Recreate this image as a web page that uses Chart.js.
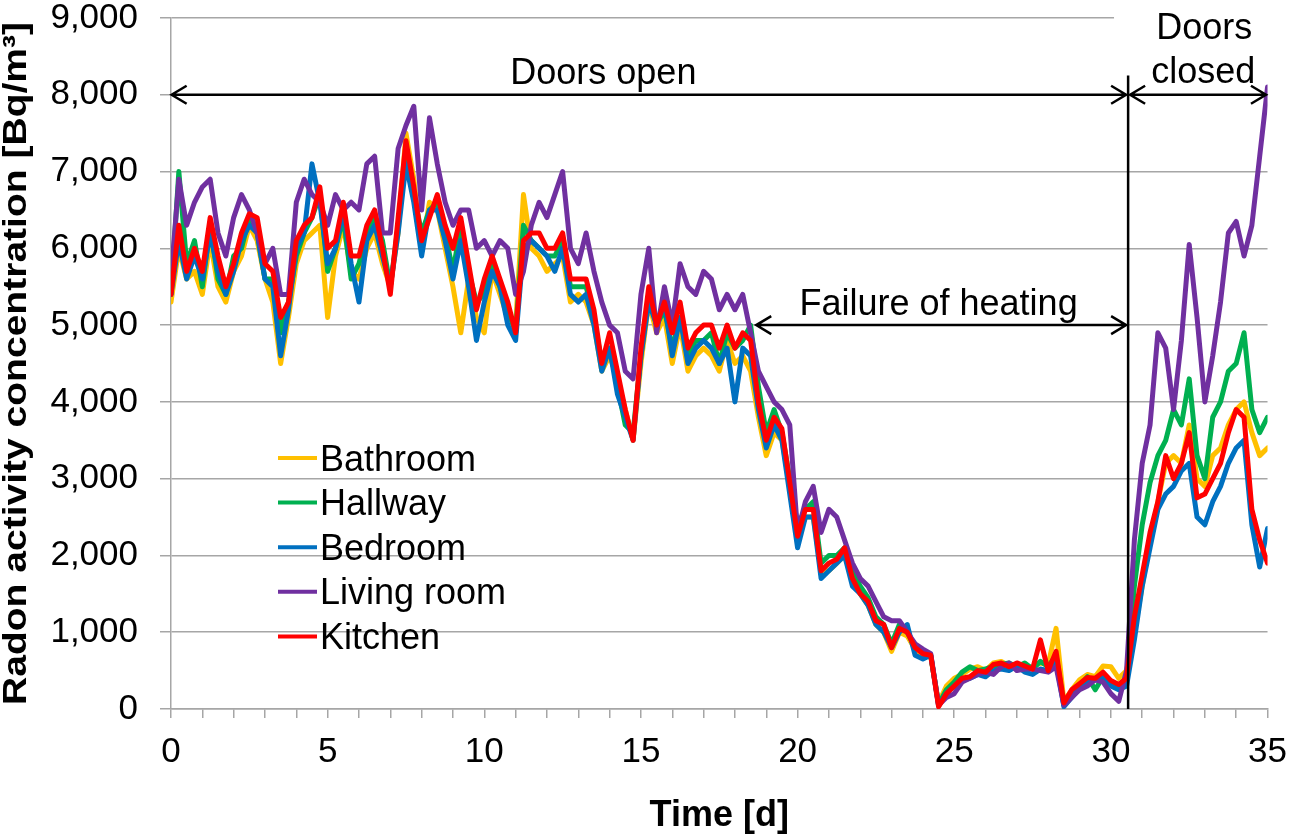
<!DOCTYPE html>
<html>
<head>
<meta charset="utf-8">
<title>Radon activity concentration</title>
<script src="https://cdn.jsdelivr.net/npm/chart.js@4.4.1/dist/chart.umd.min.js"></script>
<style>
  html, body { margin: 0; padding: 0; background: #fff; }
  #wrap { width: 1300px; height: 834px; }
</style>
</head>
<body>
<div id="wrap"><canvas id="chart" width="1300" height="834"></canvas></div>
<script>
// time in days, one reading every 6 h
const days = [
  0, 0.25, 0.5, 0.75, 1, 1.25, 1.5, 1.75, 2, 2.25, 2.5, 2.75, 3, 3.25, 3.5, 3.75, 4, 4.25, 4.5, 4.75,
  5, 5.25, 5.5, 5.75, 6, 6.25, 6.5, 6.75, 7, 7.25, 7.5, 7.75, 8, 8.25, 8.5, 8.75, 9, 9.25, 9.5, 9.75,
  10, 10.25, 10.5, 10.75, 11, 11.25, 11.5, 11.75, 12, 12.25, 12.5, 12.75, 13, 13.25, 13.5, 13.75, 14, 14.25, 14.5, 14.75,
  15, 15.25, 15.5, 15.75, 16, 16.25, 16.5, 16.75, 17, 17.25, 17.5, 17.75, 18, 18.25, 18.5, 18.75, 19, 19.25, 19.5, 19.75,
  20, 20.25, 20.5, 20.75, 21, 21.25, 21.5, 21.75, 22, 22.25, 22.5, 22.75, 23, 23.25, 23.5, 23.75, 24, 24.25, 24.5, 24.75,
  25, 25.25, 25.5, 25.75, 26, 26.25, 26.5, 26.75, 27, 27.25, 27.5, 27.75, 28, 28.25, 28.5, 28.75, 29, 29.25, 29.5, 29.75,
  30, 30.25, 30.5, 30.75, 31, 31.25, 31.5, 31.75, 32, 32.25, 32.5, 32.75, 33, 33.25, 33.5, 33.75, 34, 34.25, 34.5, 34.75,
  35
];

// Bq/m3
const bathroom = [
  5300, 6000, 5600, 5700, 5400, 6100, 5500, 5300, 5700, 5900, 6300, 6100, 5600, 5300, 4500, 5100, 5800, 6100, 6200, 6300,
  5100, 5900, 6300, 5700, 5600, 6000, 6200, 5800, 5500, 6200, 7500, 6900, 6000, 6600, 6500, 6000, 5500, 4900, 5600, 5100,
  4900, 5700, 5400, 5100, 5000, 6700, 6000, 5900, 5700, 5800, 5900, 5300, 5400, 5300, 5000, 4400, 4600, 4300, 3900, 3500,
  4500, 5300, 4900, 5100, 4500, 5000, 4400, 4600, 4700, 4600, 4400, 4800, 4500, 4600, 4400, 3800, 3300, 3600, 3500, 2900,
  2300, 2500, 2500, 1800, 1800, 1900, 2000, 1700, 1500, 1350, 1100, 1000, 750, 1000, 950, 780, 700, 680, 80, 300,
  400, 450, 520, 550, 500, 600, 620, 560, 580, 540, 550, 600, 580, 1050, 100, 250, 380, 450, 420, 560,
  550, 400, 500, 1000, 1600, 2200, 2700, 3200, 3300, 3200, 3700, 3000, 2900, 3300, 3400, 3700, 3900, 4000, 3600, 3300,
  3400
];
const hallway = [
  5400, 7000, 5800, 6100, 5500, 6300, 5600, 5400, 5900, 6000, 6400, 6200, 5600, 5600, 4900, 5300, 5900, 6200, 6400, 6700,
  5700, 6000, 6400, 5600, 5800, 6200, 6400, 6100, 5500, 6300, 7200, 6700, 6200, 6500, 6600, 6200, 5700, 6300, 5700, 5300,
  5400, 5800, 5500, 5200, 4900, 6300, 6100, 6000, 5900, 5900, 6100, 5500, 5500, 5500, 5100, 4500, 4700, 4200, 3700, 3600,
  4600, 5400, 5000, 5200, 4700, 5100, 4600, 4800, 4800, 4900, 4500, 4900, 4700, 4800, 5000, 4200, 3600, 3900, 3600, 3000,
  2400, 2600, 2700, 1900, 2000, 2000, 2100, 1800, 1600, 1450, 1200, 1100, 850, 1100, 1000, 800, 750, 700, 60, 250,
  350, 480, 550, 500, 520, 560, 580, 600, 550, 600, 520, 620, 550, 700, 50, 200, 300, 420, 250, 420,
  330, 300, 400, 1600, 2400, 2950, 3300, 3500, 3900, 3700, 4300, 3300, 3000, 3800, 4000, 4400, 4500, 4900, 3900, 3600,
  3800
];
const bedroom = [
  5400, 6100, 5600, 5900, 5600, 6200, 5700, 5400, 5700, 6100, 6300, 6200, 5600, 5500, 4600, 5200, 6000, 6200, 7100, 6600,
  5800, 6000, 6500, 5800, 5300, 6100, 6300, 5900, 5500, 6200, 7100, 6600, 5900, 6500, 6500, 6100, 5600, 6100, 5500, 4800,
  5300, 5700, 5500, 5000, 4800, 6000, 6100, 6000, 5900, 5700, 6000, 5400, 5300, 5400, 5000, 4400, 4700, 4100, 3800, 3500,
  4600, 5300, 5000, 5300, 4600, 5100, 4500, 4700, 4800, 4700, 4500, 4700, 4000, 4700, 4600, 3900, 3400, 3700, 3500, 2800,
  2100, 2500, 2500, 1700, 1800, 1900, 2000, 1600, 1500, 1350, 1100, 1000, 800, 1000, 1100, 700, 650, 700, 40, 200,
  300, 380, 400, 450, 420, 500, 520, 500, 560, 480, 450, 520, 500, 620, 30, 150, 280, 350, 380, 420,
  300, 250, 300, 900, 1600, 2100, 2600, 2800, 2900, 3100, 3200, 2500, 2400, 2700, 2900, 3200, 3400, 3500, 2400, 1850,
  2350
];
const livingRoom = [
  5600, 6900, 6300, 6600, 6800, 6900, 6200, 5900, 6400, 6700, 6500, 6200, 5800, 6000, 5400, 5400, 6600, 6900, 6700, 6600,
  6300, 6700, 6500, 6600, 6500, 7100, 7200, 6200, 6200, 7300, 7600, 7850, 6500, 7700, 7100, 6600, 6300, 6500, 6500, 6000,
  6100, 5900, 6100, 6000, 5400, 5700, 6300, 6600, 6400, 6700, 7000, 6000, 5800, 6200, 5700, 5300, 5000, 4900, 4400, 4300,
  5400, 6000, 4900, 5500, 5000, 5800, 5500, 5400, 5700, 5600, 5200, 5400, 5200, 5400, 4900, 4400, 4200, 4000, 3900, 3700,
  2300, 2700, 2900, 2300, 2600, 2500, 2200, 1900, 1700, 1600, 1400, 1200, 1150, 1150, 1000, 850, 780, 720, 50, 150,
  200, 350, 400, 450, 480, 450, 550, 600, 500, 520, 520, 500, 480, 550, 50, 150, 250, 300, 380, 350,
  200, 100, 500, 2200, 3200, 3700, 4900, 4700, 3900, 4800, 6050, 5100, 4000, 4600, 5300, 6200, 6350, 5900, 6300, 7200,
  8100
];
const kitchen = [
  5400, 6300, 5700, 6000, 5700, 6400, 5900, 5500, 5800, 6200, 6450, 6400, 5800, 5700, 5100, 5300, 6100, 6300, 6400, 6800,
  6000, 6100, 6600, 5900, 5900, 6300, 6500, 6000, 5400, 6400, 7400, 6800, 6100, 6400, 6700, 6300, 6000, 6400, 5800, 5200,
  5600, 5900, 5600, 5300, 4900, 6100, 6200, 6200, 6000, 6000, 6200, 5600, 5600, 5600, 5200, 4500, 4900, 4400, 3900, 3500,
  4700, 5500, 5000, 5300, 4900, 5300, 4700, 4900, 5000, 5000, 4700, 5000, 4700, 4900, 4800, 4000, 3500, 3800, 3650, 2950,
  2250, 2600, 2600, 1800, 1900, 1950, 2100, 1700, 1500, 1400, 1150, 1100, 800, 1050, 1000, 800, 720, 700, 30, 200,
  300, 400, 420, 500, 480, 580, 600, 550, 600, 560, 520, 900, 500, 750, 80, 250, 330, 410, 400, 480,
  370, 320, 400, 1200, 1750, 2300, 2700, 3300, 3000, 3200, 3600, 2750, 2800, 3000, 3200, 3600, 3900, 3800, 2600, 2200,
  1900
];

const rooms = ['Bathroom', 'Hallway', 'Bedroom', 'Living room', 'Kitchen'];
const colors = ['#FFC000', '#00B050', '#0070C0', '#7030A0', '#FF0000'];
const series = [bathroom, hallway, bedroom, livingRoom, kitchen];

const yTicks = [0, 1000, 2000, 3000, 4000, 5000, 6000, 7000, 8000, 9000];
const xLabels = [0, 5, 10, 15, 20, 25, 30, 35];

const FONT = '"Liberation Sans", Arial, sans-serif';
const GRID = '#a6a6a6';

function arrow(ctx, x1, x2, y) {
  const h = 15, w = 9;
  ctx.beginPath();
  ctx.moveTo(x1, y); ctx.lineTo(x2, y);
  ctx.moveTo(x1 + h, y - w); ctx.lineTo(x1, y); ctx.lineTo(x1 + h, y + w);
  ctx.moveTo(x2 - h, y - w); ctx.lineTo(x2, y); ctx.lineTo(x2 - h, y + w);
  ctx.stroke();
}

// arrows, labels, legend and axis titles
const notes = {
  id: 'notes',
  beforeDatasetsDraw(chart) {
    const {ctx} = chart;
    const x = chart.scales.x, y = chart.scales.y;
    // the "Doors closed" text box hides the top grid line
    ctx.save();
    ctx.fillStyle = '#fff';
    ctx.fillRect(x.getPixelForValue(30.1), 0, 300, y.getPixelForValue(8600));
    ctx.restore();
  },
  afterDatasetsDraw(chart) {
    const {ctx} = chart;
    const x = chart.scales.x, y = chart.scales.y;
    const px = v => x.getPixelForValue(v), py = v => y.getPixelForValue(v);
    ctx.save();
    ctx.strokeStyle = '#000';
    ctx.fillStyle = '#000';
    ctx.lineWidth = 2.5;

    // doors closed from here on
    ctx.beginPath();
    ctx.moveTo(px(30.55), py(8250));
    ctx.lineTo(px(30.55), py(0));
    ctx.stroke();

    arrow(ctx, px(0.02), px(30.55) - 2, py(8000));
    arrow(ctx, px(30.55) + 2, px(34.95), py(8000));
    arrow(ctx, px(18.68), px(30.55) - 2, py(5000));

    ctx.font = '36px ' + FONT;
    ctx.textAlign = 'center';
    ctx.textBaseline = 'alphabetic';
    ctx.fillText('Doors open', px(13.8), py(8140));
    ctx.fillText('Failure of heating', px(24.5), py(5130));
    ctx.fillText('Doors', px(32.98), py(8720));
    ctx.fillText('closed', px(32.95), py(8150));

    // legend
    ctx.textAlign = 'left';
    ctx.lineWidth = 4;
    rooms.forEach((r, i) => {
      const ly = 458 + i * 44.6;
      ctx.strokeStyle = colors[i];
      ctx.beginPath();
      ctx.moveTo(278, ly);
      ctx.lineTo(317, ly);
      ctx.stroke();
      ctx.fillText(r, 320, ly + 12.5);
    });

    // axis titles
    ctx.font = 'bold 36px ' + FONT;
    ctx.textAlign = 'center';
    ctx.fillText('Time [d]', (chart.chartArea.left + chart.chartArea.right) / 2, 826);

    const yt = 'Radon activity concentration [Bq/m\u00B3]';
    ctx.font = 'bold 34px ' + FONT;
    const w = ctx.measureText(yt).width;
    ctx.translate(26, (chart.chartArea.top + chart.chartArea.bottom) / 2);
    ctx.rotate(-Math.PI / 2);
    ctx.scale(683 / w, 1);
    ctx.fillText(yt, 0, 0);
    ctx.restore();
  }
};

const ctx = document.getElementById('chart').getContext('2d');
const myChart = new Chart(ctx, {
  type: 'line',
  data: {
    datasets: rooms.map((r, i) => ({
      label: r,
      data: days.map((d, k) => ({x: d, y: series[i][k]})),
      borderColor: colors[i],
      backgroundColor: colors[i],
      borderWidth: 5,
      borderJoinStyle: 'round',
      borderCapStyle: 'round',
      pointRadius: 0,
      tension: 0,
      order: rooms.length - i   // kitchen on top, as in the original
    }))
  },
  options: {
    responsive: false,
    animation: false,
    devicePixelRatio: 1,
    layout: { padding: { top: 18, right: 31, left: 0, bottom: 0 } },
    plugins: { legend: { display: false }, tooltip: { enabled: false } },
    scales: {
      x: {
        type: 'linear',
        min: 0,
        max: 35,
        afterFit: s => { s.height = 125; },
        afterBuildTicks: s => { s.ticks = days.filter(d => d % 1 === 0).map(v => ({value: v})); },
        ticks: {
          autoSkip: false,
          maxRotation: 0,
          padding: 13,
          color: '#000',
          font: { family: FONT, size: 35 },
          callback: v => xLabels.includes(v) ? String(v) : ''
        },
        grid: { drawOnChartArea: false, drawTicks: true, tickLength: 9, color: GRID, lineWidth: 1.5 },
        border: { color: GRID, width: 1.5 }
      },
      y: {
        min: 0,
        max: 9000,
        afterFit: s => { s.width = 171; s.paddingTop = 0; s.paddingBottom = 0; },
        afterBuildTicks: s => { s.ticks = yTicks.map(v => ({value: v})); },
        ticks: {
          padding: 22,
          color: '#000',
          font: { family: FONT, size: 35 },
          callback: v => v.toLocaleString('en-US')
        },
        grid: { color: GRID, lineWidth: 1.5, tickLength: 11 },
        border: { color: GRID, width: 1.5 }
      }
    }
  },
  plugins: [notes]
});
</script>
</body>
</html>
